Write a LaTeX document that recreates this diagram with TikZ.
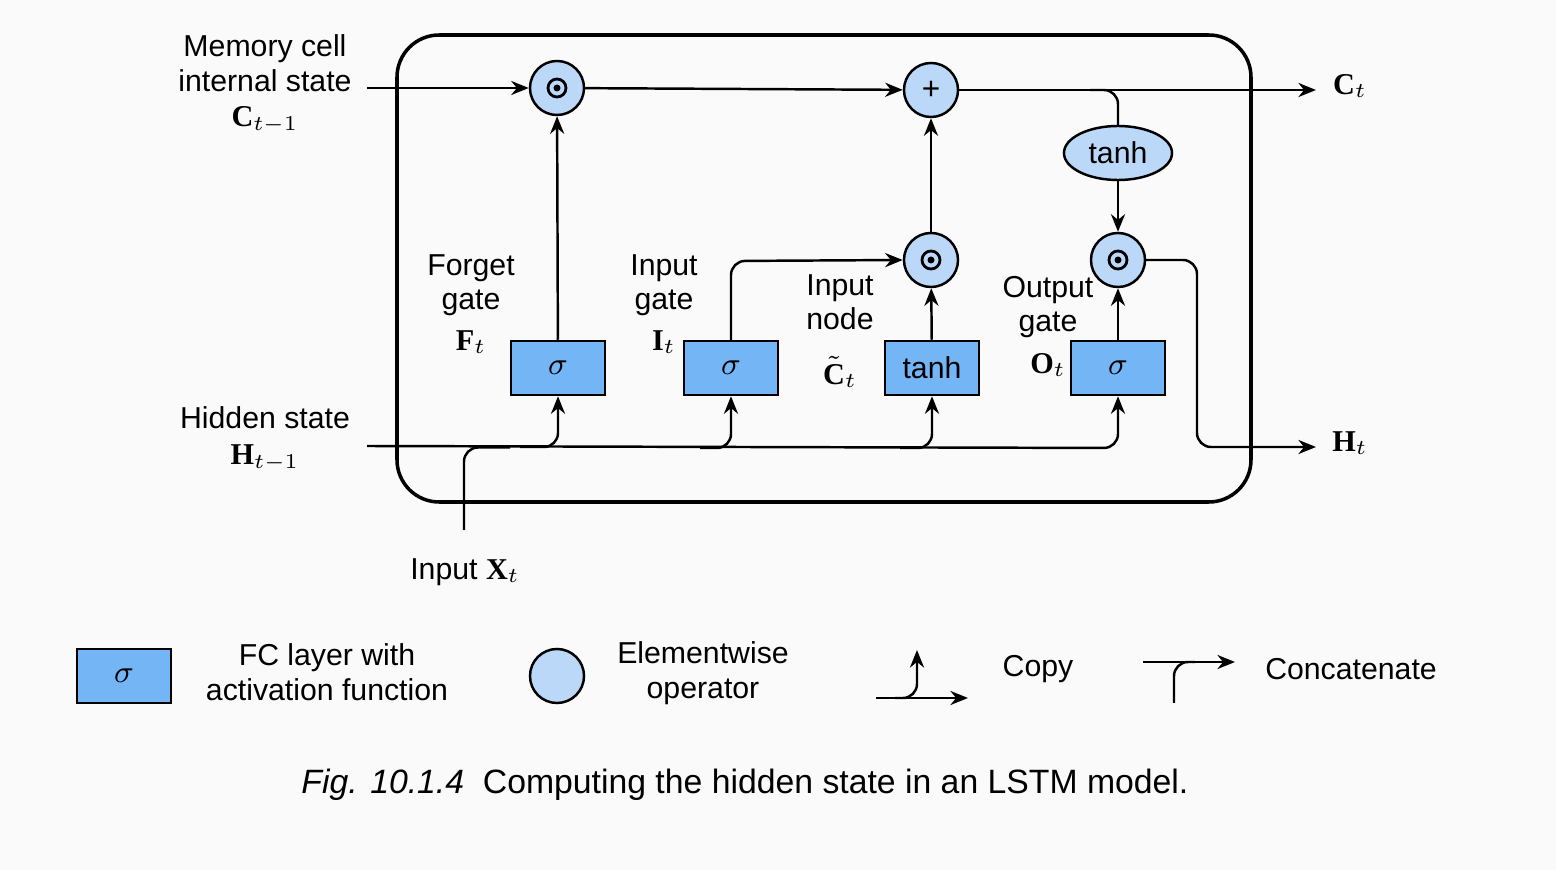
\documentclass[tikz,border=0pt]{standalone}
\usepackage{fontspec}
\setmainfont{Liberation Sans}
\newfontfamily\serifb{Liberation Serif}
\newcommand{\vb}[1]{{\serifb\bfseries #1}}
\usetikzlibrary{arrows.meta,shapes.geometric}
\begin{document}
\begin{tikzpicture}[x=0.01cm,y=-0.01cm,
  every node/.style={font=\fontsize{8.6pt}{9.8pt}\selectfont, align=center},
  ln/.style={line width=0.7pt},
  arr/.style={ln,-{Stealth[length=5pt,width=4pt]}},
  op/.style={circle,draw,line width=0.7pt,fill=opc,minimum size=0.54cm,inner sep=0pt},
  fc/.style={rectangle,draw,line width=0.7pt,fill=fcc,minimum width=0.94cm,minimum height=0.54cm,inner sep=0pt},
  rc/.style={rounded corners=4pt}]
\definecolor{opc}{HTML}{BBD8F8}
\definecolor{fcc}{HTML}{74B6F5}
\definecolor{bg}{HTML}{FAFAFA}
\fill[bg] (0,0) rectangle (1556,870);
\useasboundingbox (0,0) rectangle (1556,870);
\draw[line width=1pt, rounded corners=12pt] (397,35) rectangle (1251,502);
% operators
\node[op] (m1) at (557,88) {};
\node[op] (p) at (931,90) {\small +};
\node[op] (m2) at (931,260) {};
\node[op] (m3) at (1118,260) {};
\foreach \n in {m1,m2,m3}{
  \draw[line width=0.8pt] (\n.center) circle[radius=0.09cm];
  \fill (\n.center) circle[radius=0.035cm];
}
\node[ellipse,draw,line width=0.7pt,fill=opc,minimum width=1.08cm,minimum height=0.54cm,inner sep=0pt] (th) at (1118,153) {tanh};
\node[fc] (s1) at (558,368) {$\sigma$};
\node[fc] (s2) at (731,368) {$\sigma$};
\node[fc] (tb) at (932,368) {tanh};
\node[fc] (s4) at (1118,368) {$\sigma$};
% coordinates
\coordinate (cin) at (367,88);
\coordinate (cout) at (1316,90);
\coordinate (hin) at (367,446);
\coordinate (hout) at (1316,447);
\coordinate (xin) at (464,530);
% top
\draw[arr] (cin) -- (m1);
\draw[arr] (m1) -- (p);
\draw[arr] (p) -- (cout);
\draw[ln,rc] (1090,90) -- (1118,90) -- (th.north);
\draw[arr] (th) -- (m3);
\draw[arr] (s1) -- (m1);
\draw[arr,rc] (s2.north) -- (731,261) -- (m2.west);
\draw[arr] (tb) -- (m2);
\draw[arr] (m2) -- (p);
\draw[arr] (s4) -- (m3);
\draw[arr,rc] (m3.east) -- (1197,260) -- (1197,447) -- (hout);
% hidden
\draw[arr,rc] (hin) -- (1118,448) -- (s4.south);
\draw[arr,rc] (520,447) -- (558,447) -- (s1.south);
\draw[arr,rc] (700,448) -- (731,448) -- (s2.south);
\draw[arr,rc] (900,448) -- (932,448) -- (tb.south);
\draw[ln,rc] (xin) -- (464,447.5) -- (510,447.5);
% labels
\node at (265,63) {Memory cell\\internal state};
\node at (265,120) {\vb{C}$_{t-1}$};
\node at (265,418) {Hidden state};
\node at (265,458) {\vb{H}$_{t-1}$};
\node at (471,285) {Forget\\gate};
\node at (471,342) {\vb{F}$_t$};
\node at (664,285) {Input\\gate};
\node at (664,342) {\vb{I}$_t$};
\node at (840,302) {Input\\node};
\node at (840,372) {$\tilde{\mbox{\vb{C}}}_t$};
\node at (1048,307) {Output\\gate};
\node at (1048,365) {\vb{O}$_t$};
\node at (1350,86) {\vb{C}$_t$};
\node at (1350,443) {\vb{H}$_t$};
\node at (465,572) {Input \vb{X}$_t$};
% legend
\node[fc] (lf) at (124,676) {$\sigma$};
\node at (327,672) {FC layer with\\activation function};
\node[op] (lo) at (557,676) {};
\node at (703,673) {Elementwise\\operator};
\coordinate (ca) at (876,698);
\coordinate (cb) at (968,698);
\coordinate (cc) at (917,650);
\draw[arr] (ca) -- (cb);
\draw[arr,rc] (895,698) -- (917,698) -- (cc);
\node at (1038,669) {Copy};
\coordinate (ka) at (1143,662);
\coordinate (kb) at (1235,662);
\coordinate (kc) at (1174,703);
\draw[arr] (ka) -- (kb);
\draw[ln,rc] (kc) -- (1174,662) -- (1195,662);
\node at (1351,669) {Concatenate};
\node[font=\fontsize{9.6pt}{11pt}\selectfont] at (745,785) {\textit{Fig. 10.1.4}\ \ Computing the hidden state in an LSTM model.};
\end{tikzpicture}
\end{document}
